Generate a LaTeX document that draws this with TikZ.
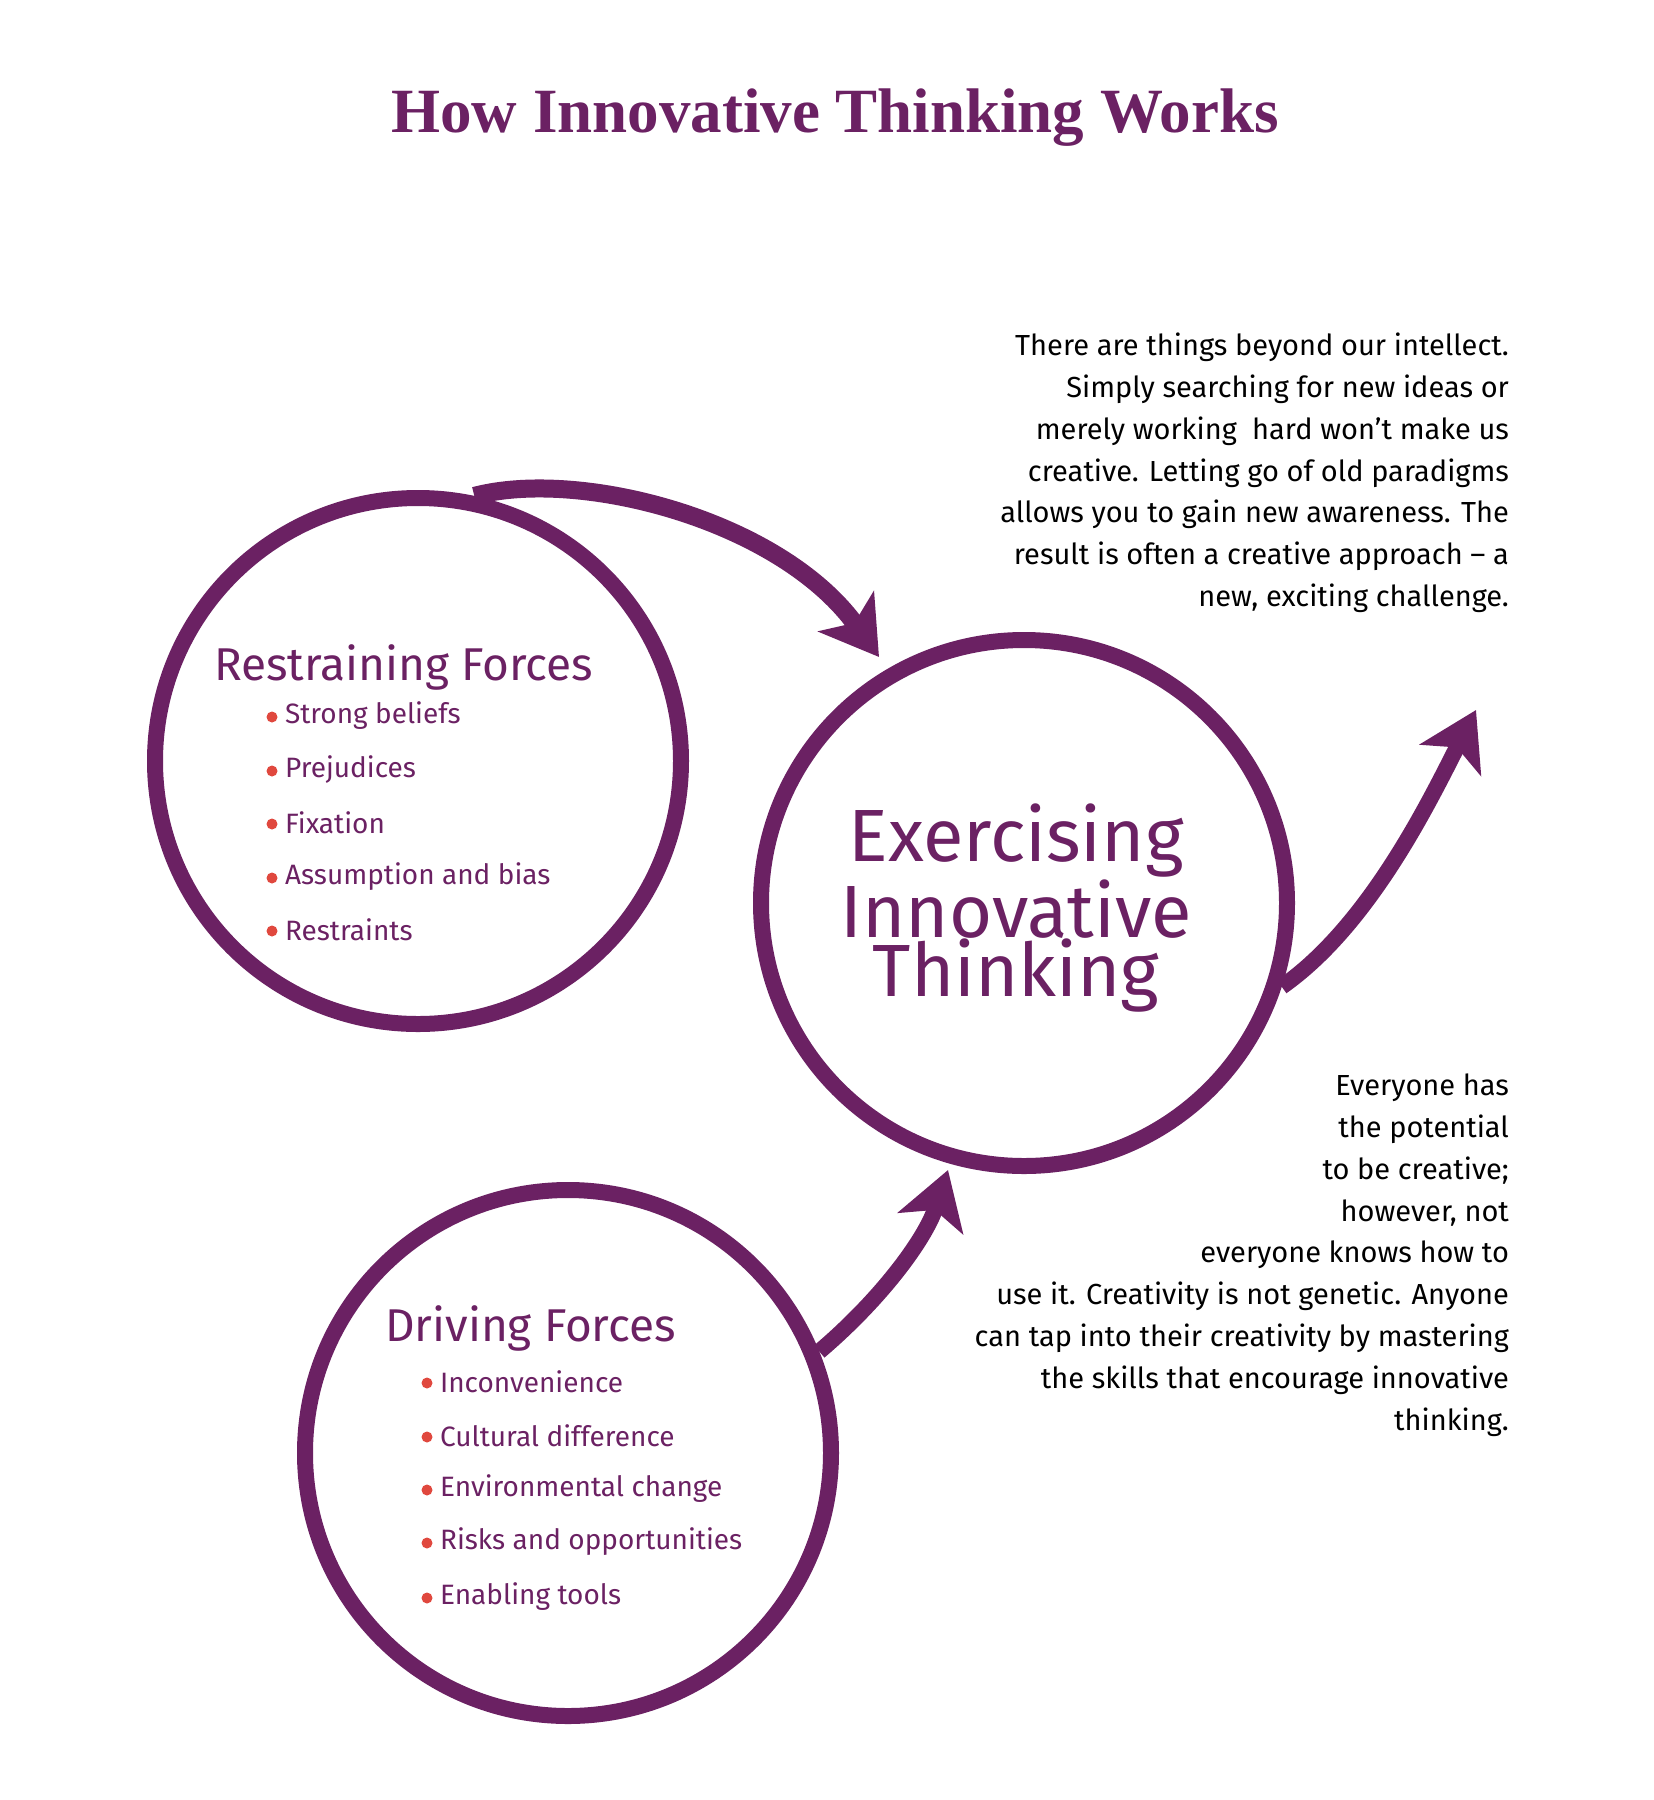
\documentclass[tikz,border=0pt]{standalone}
\usepackage{fontspec}
\setmainfont{Fira Sans}
\newfontfamily\titlefont{Liberation Serif}
\usetikzlibrary{arrows.meta}
\definecolor{plum}{HTML}{6B2163}
\definecolor{dotred}{HTML}{E0483E}
\begin{document}
\begin{tikzpicture}[x=0.5pt,y=-0.5pt,
  ring/.style={circle,draw=plum,line width=8pt,minimum size=263pt,inner sep=0pt},
  flow/.style={draw=plum,line width=9pt,-{Stealth[length=28pt,width=34pt,inset=7pt]}},
  head/.style={text=plum,font=\fontsize{23}{26}\selectfont,anchor=west},
  item/.style={text=plum,font=\fontsize{14}{16}\selectfont,anchor=west},
  dot/.style={circle,fill=dotred,inner sep=0pt,minimum size=5.5pt},
  para/.style={align=right,anchor=north east,font=\fontsize{14.5}{20.9}\selectfont,text=black}]
\useasboundingbox (0,0) rectangle (1654,1800);
\node[text=plum,font=\titlefont\bfseries\fontsize{31.5}{34}\selectfont] (title) at (835,118) {How Innovative Thinking Works};
\node[ring] (rc) at (418,761) {};
\node[ring] (ec) at (1024,903) {};
\node[ring] (dc) at (568,1453) {};
\node[text=plum,align=center,font=\fontsize{37}{29.5}\selectfont] (et) at (1016,908) {Exercising\\Innovative\\Thinking};
\coordinate (t1) at (879,657);
\coordinate (t2) at (1476,710);
\coordinate (t3) at (948,1170);
\draw[flow] (rc.78) .. controls (580,468) and (780,520) .. (t1);
\draw[flow,line width=8pt] (ec.-18) .. controls (1370,925) and (1430,800) .. (t2);
\draw[flow,line width=8pt] (dc.22) .. controls (880,1300) and (925,1240) .. (t3);
\node[head] (rh) at (207,667) {Restraining Forces};
\foreach \y/\t [count=\i] in {716/Strong beliefs,770/Prejudices,823/Fixation,877/Assumption and bias,930/Restraints}{
  \node[dot] (rd\i) at (272,\y+1) {};
  \node[item] (ri\i) at (278,\y) {\t};
}
\node[head] (dh) at (378,1328) {Driving Forces};
\foreach \y/\t [count=\i] in {1382/Inconvenience,1436/Cultural difference,1489/Environmental change,1542/Risks and opportunities,1597/Enabling tools}{
  \node[dot] (dd\i) at (427,\y+1) {};
  \node[item] (di\i) at (433,\y) {\t};
}
\node[para] (p1) at (1516,326) {There are things beyond our intellect.\\Simply searching for new ideas or\\merely working\ \ hard won’t make us\\creative. Letting go of old paradigms\\allows you to gain new awareness. The\\result is often a creative approach – a\\new, exciting challenge.};
\node[para] (p2) at (1516,1067) {Everyone has\\the potential\\to be creative;\\however, not\\everyone knows how to\\use it. Creativity is not genetic. Anyone\\can tap into their creativity by mastering\\the skills that encourage innovative\\thinking.};
\end{tikzpicture}
\end{document}
